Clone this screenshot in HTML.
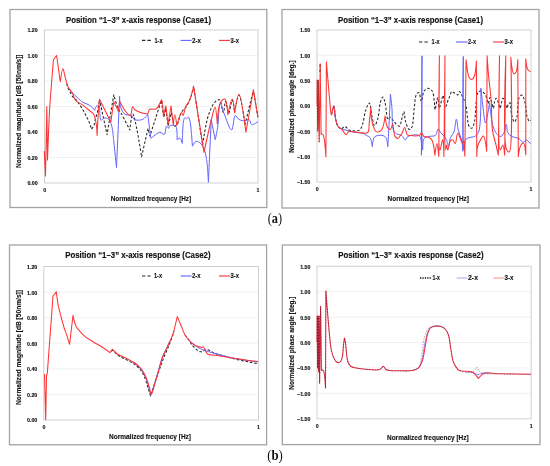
<!DOCTYPE html>
<html><head><meta charset="utf-8"><title>Position 1-3 x-axis response</title>
<style>
html,body{margin:0;padding:0;background:#fff;}
svg{display:block;}
.ti{font-family:'Liberation Sans', Arial, sans-serif;font-weight:bold;font-size:8.3px;fill:#111;stroke:#111;stroke-width:0.15px;}
.lg{font-family:'Liberation Sans', Arial, sans-serif;font-weight:bold;font-size:6.8px;fill:#111;stroke:#111;stroke-width:0.12px;}
.tk{font-family:'Liberation Sans', Arial, sans-serif;font-weight:bold;font-size:5.3px;fill:#111;stroke:#111;stroke-width:0.12px;}
.ax{font-family:'Liberation Sans', Arial, sans-serif;font-weight:bold;font-size:7px;fill:#111;stroke:#111;stroke-width:0.12px;}
.lab{font-family:'Liberation Serif', 'Times New Roman', serif;font-size:14.5px;fill:#111;}
</style></head>
<body>
<svg width="550" height="466" viewBox="0 0 550 466">
<rect width="550" height="466" fill="#fff"/>
<rect x="10" y="9.5" width="256.8" height="198.0" fill="#fff" stroke="#a3a3a3" stroke-width="1.3"/>
<text x="37.7" y="185.4" text-anchor="end" class="tk">0.00</text>
<line x1="44.5" x2="258" y1="157.5" y2="157.5" stroke="#eeeeee" stroke-width="0.8"/>
<text x="37.7" y="159.9" text-anchor="end" class="tk">0.20</text>
<line x1="44.5" x2="258" y1="132.0" y2="132.0" stroke="#eeeeee" stroke-width="0.8"/>
<text x="37.7" y="134.4" text-anchor="end" class="tk">0.40</text>
<line x1="44.5" x2="258" y1="106.5" y2="106.5" stroke="#eeeeee" stroke-width="0.8"/>
<text x="37.7" y="108.9" text-anchor="end" class="tk">0.60</text>
<line x1="44.5" x2="258" y1="81.0" y2="81.0" stroke="#eeeeee" stroke-width="0.8"/>
<text x="37.7" y="83.4" text-anchor="end" class="tk">0.80</text>
<line x1="44.5" x2="258" y1="55.5" y2="55.5" stroke="#eeeeee" stroke-width="0.8"/>
<text x="37.7" y="57.9" text-anchor="end" class="tk">1.00</text>
<text x="37.7" y="32.4" text-anchor="end" class="tk">1.20</text>
<rect x="44.5" y="30" width="213.5" height="153.0" fill="none" stroke="#d0d0d0" stroke-width="1"/>
<text x="44.7" y="192.4" text-anchor="middle" class="tk">0</text>
<text x="258.0" y="192.4" text-anchor="middle" class="tk">1</text>
<path d="M66.90,83.60 C66.90,83.60 67.23,86.07 67.70,87.40 C68.27,89.03 69.40,90.97 70.30,92.60 C71.14,94.12 71.81,95.58 72.90,96.90 C74.05,98.30 76.05,99.45 77.10,100.70 C77.91,101.67 78.21,102.51 78.90,103.60 C79.81,105.02 81.07,106.80 82.10,108.50 C83.17,110.26 84.22,112.16 85.20,114.00 C86.15,115.80 87.06,117.59 87.90,119.40 C88.73,121.19 89.58,123.06 90.20,124.80 C90.75,126.35 91.50,129.30 91.50,129.30 C91.50,129.30 93.17,127.17 93.80,125.70 C94.63,123.77 94.98,120.82 95.60,118.50 C96.18,116.30 96.84,114.62 97.40,112.10 C98.18,108.58 99.50,99.30 99.50,99.30 C99.50,99.30 107.00,134.70 107.00,134.70 C107.00,134.70 113.80,94.80 113.80,94.80 C113.80,94.80 116.71,105.64 118.30,109.00 C119.27,111.04 120.11,111.56 121.30,113.60 C123.49,117.35 129.80,130.00 129.80,130.00 C129.80,130.00 131.50,114.01 132.80,114.00 C134.93,113.98 141.60,156.80 141.60,156.80 C141.60,156.80 148.00,128.50 148.00,128.50 C148.00,128.50 150.00,136.00 150.00,136.00 C150.00,136.00 153.63,124.37 155.50,118.50 C157.40,112.54 161.30,100.50 161.30,100.50 C161.30,100.50 163.70,117.50 163.70,117.50 C163.70,117.50 165.90,108.40 165.90,108.40 C165.90,108.40 168.10,126.00 168.10,126.00 C168.10,126.00 171.40,112.70 171.40,112.70 C171.40,112.70 174.10,126.00 174.10,126.00 C174.10,126.00 175.97,125.84 176.80,125.00 C178.57,123.21 179.31,116.02 181.20,112.70 C182.72,110.03 185.03,108.71 186.60,106.20 C188.36,103.37 189.83,99.74 191.00,96.40 C192.15,93.11 193.60,86.30 193.60,86.30 C193.60,86.30 202.60,145.00 202.60,145.00 C202.60,145.00 205.68,123.40 208.30,115.60 C210.17,110.05 212.53,104.46 215.00,102.00 C216.42,100.58 218.28,99.26 219.50,99.80 C221.50,100.68 222.26,112.65 223.30,112.60 C224.26,112.56 224.74,101.32 225.60,101.30 C226.50,101.28 227.52,113.29 228.60,113.30 C229.74,113.32 231.29,99.95 232.30,100.00 C233.27,100.04 234.60,112.60 234.60,112.60 C234.60,112.60 237.50,94.97 239.00,95.00 C240.94,95.04 245.00,124.60 245.00,124.60 C245.00,124.60 249.45,106.18 251.00,99.80 C251.98,95.79 253.40,90.00 253.40,90.00 C253.40,90.00 257.90,117.10 257.90,117.10" fill="none" stroke="#262626" stroke-width="1.05" stroke-dasharray="2.6 1.8" stroke-linejoin="round"/>
<path d="M68.60,87.90 C68.60,87.90 70.16,90.16 71.10,91.30 C72.14,92.56 73.34,93.85 74.60,95.10 C75.93,96.42 77.53,97.77 78.90,99.00 C80.15,100.12 81.15,101.37 82.50,102.20 C83.85,103.04 85.53,103.27 87.00,104.00 C88.53,104.76 90.20,105.62 91.50,106.70 C92.75,107.73 94.70,110.30 94.70,110.30 C94.70,110.30 95.40,107.45 96.00,106.70 C96.39,106.20 96.85,105.96 97.40,105.80 C98.05,105.61 99.70,105.80 99.70,105.80 C99.70,105.80 99.55,119.67 101.00,120.30 C101.74,120.62 102.82,118.24 104.00,118.00 C105.34,117.73 107.48,118.21 108.70,119.20 C110.10,120.35 110.78,122.72 111.50,125.00 C112.43,127.95 113.20,135.60 113.20,135.60 C113.20,135.60 116.50,167.60 116.50,167.60 C116.50,167.60 119.60,96.40 119.60,96.40 C119.60,96.40 119.61,103.70 120.60,106.80 C121.51,109.64 123.02,113.10 125.00,114.40 C126.64,115.48 129.43,114.20 131.00,115.10 C132.49,115.96 132.69,118.69 134.30,119.50 C136.27,120.48 140.22,120.43 142.50,119.50 C144.67,118.61 147.80,114.30 147.80,114.30 C147.80,114.30 150.80,138.30 150.80,138.30 C150.80,138.30 152.60,136.82 153.80,136.00 C155.43,134.87 157.92,132.39 159.80,132.30 C161.39,132.22 163.21,135.00 164.30,134.50 C165.74,133.84 165.44,126.39 166.50,126.10 C167.15,125.92 168.30,128.53 168.80,128.40 C169.24,128.29 168.85,126.49 169.50,126.00 C170.52,125.24 174.26,124.79 175.60,126.00 C177.62,127.82 177.00,139.70 177.00,139.70 C177.00,139.70 179.18,137.90 180.00,138.20 C181.07,138.58 182.30,143.40 182.30,143.40 C182.30,143.40 182.54,119.27 184.60,117.90 C185.22,117.49 186.17,118.75 186.80,118.60 C187.40,118.45 187.85,117.03 188.30,117.10 C188.87,117.19 189.35,118.54 189.80,120.10 C191.06,124.45 192.40,146.20 192.40,146.20 C192.40,146.20 194.58,141.76 195.90,141.30 C196.88,140.95 198.07,141.53 199.10,142.20 C200.51,143.11 201.99,144.92 203.10,147.00 C204.62,149.84 205.56,153.71 206.40,158.20 C207.61,164.66 208.40,182.30 208.40,182.30 C208.40,182.30 211.20,119.60 211.20,119.60 C211.20,119.60 215.20,139.70 215.20,139.70 C215.20,139.70 216.87,132.41 217.60,127.70 C218.63,121.07 218.80,103.79 220.30,103.60 C221.28,103.48 222.48,109.66 224.00,113.30 C226.02,118.12 229.68,130.07 231.60,129.90 C233.33,129.75 233.55,116.06 235.30,115.60 C236.35,115.32 237.47,118.52 239.00,119.40 C240.65,120.35 243.23,121.01 245.00,120.90 C246.46,120.81 247.81,119.01 248.90,119.40 C250.20,119.86 250.47,124.17 251.90,124.60 C253.42,125.06 257.90,121.60 257.90,121.60" fill="none" stroke="#6262ff" stroke-width="1.0" stroke-linejoin="round"/>
<path d="M44.30,151.00 C44.30,151.00 45.50,176.00 45.50,176.00 C45.50,176.00 46.80,106.60 46.80,106.60 C46.80,106.60 47.50,160.00 47.50,160.00 C47.50,160.00 48.81,123.80 49.60,110.00 C50.16,100.23 50.77,93.36 51.40,85.00 C52.04,76.59 53.40,59.70 53.40,59.70 C53.40,59.70 56.60,55.50 56.60,55.50 C56.60,55.50 60.30,81.80 60.30,81.80 C60.30,81.80 62.04,68.84 62.90,68.80 C63.50,68.77 64.09,72.76 64.70,75.00 C65.42,77.63 66.14,81.24 66.90,83.60 C67.45,85.30 67.88,86.59 68.60,87.90 C69.29,89.15 70.34,90.24 71.10,91.30 C71.76,92.22 72.37,92.84 72.90,93.90 C73.59,95.28 73.79,97.65 74.60,99.00 C75.27,100.10 76.04,100.75 77.10,101.60 C78.50,102.73 80.82,103.72 82.50,104.90 C84.11,106.03 85.50,107.30 87.00,108.50 C88.50,109.70 90.27,111.00 91.50,112.10 C92.42,112.92 93.21,113.44 93.80,114.40 C94.47,115.51 94.70,116.93 95.10,118.50 C95.62,120.55 96.17,123.10 96.50,125.70 C96.88,128.73 97.10,135.60 97.10,135.60 C97.10,135.60 97.84,119.59 98.30,113.00 C98.66,107.86 99.50,99.30 99.50,99.30 C99.50,99.30 110.80,121.90 110.80,121.90 C110.80,121.90 113.80,101.60 113.80,101.60 C113.80,101.60 118.30,111.40 118.30,111.40 C118.30,111.40 119.80,101.60 119.80,101.60 C119.80,101.60 123.08,108.10 125.00,110.60 C126.63,112.73 129.04,116.25 130.30,115.90 C131.71,115.51 131.59,107.00 132.60,106.80 C133.24,106.68 133.54,108.91 134.80,109.80 C137.18,111.48 145.31,114.62 147.60,113.60 C148.95,113.00 148.40,110.21 149.60,109.40 C151.00,108.45 154.25,110.03 156.00,109.00 C158.00,107.83 159.50,103.69 160.50,102.00 C161.05,101.07 161.35,99.73 161.70,99.80 C162.61,99.98 163.50,116.40 163.50,116.40 C163.50,116.40 165.80,105.80 165.80,105.80 C165.80,105.80 168.00,124.60 168.00,124.60 C168.00,124.60 171.00,105.80 171.00,105.80 C171.00,105.80 173.30,124.60 173.30,124.60 C173.30,124.60 174.23,114.81 174.80,114.80 C175.39,114.79 176.80,125.40 176.80,125.40 C176.80,125.40 180.44,112.65 181.60,112.60 C182.17,112.58 182.50,115.64 183.00,115.60 C183.89,115.54 184.78,108.23 186.00,105.80 C186.83,104.15 188.03,103.36 188.80,102.00 C189.57,100.63 189.99,99.43 190.60,97.60 C191.56,94.73 193.60,86.30 193.60,86.30 C193.60,86.30 204.00,152.30 204.00,152.30 C204.00,152.30 209.16,128.27 211.30,120.00 C212.65,114.77 214.03,107.23 215.00,107.30 C216.10,107.38 217.30,123.90 217.30,123.90 C217.30,123.90 218.09,106.80 220.30,102.80 C221.46,100.70 223.64,98.59 224.80,99.00 C226.72,99.68 227.80,114.80 227.80,114.80 C227.80,114.80 231.15,98.94 232.30,99.00 C233.36,99.06 234.60,112.60 234.60,112.60 C234.60,112.60 237.48,94.46 239.00,94.50 C241.18,94.56 245.90,132.10 245.90,132.10 C245.90,132.10 253.40,90.00 253.40,90.00 C253.40,90.00 257.90,117.10 257.90,117.10" fill="none" stroke="#ff3333" stroke-width="1.05" stroke-linejoin="round"/>
<text x="66" y="22.8" class="ti" textLength="145.0" lengthAdjust="spacingAndGlyphs">Position “1–3” x-axis response (Case1)</text>
<line x1="142" x2="151" y1="40.4" y2="40.4" stroke="#262626" stroke-width="1.1" stroke-dasharray="3.4 2"/>
<text x="154.5" y="42.6" class="lg" textLength="8.0" lengthAdjust="spacingAndGlyphs">1-x</text>
<line x1="180.6" x2="191.6" y1="40.4" y2="40.4" stroke="#6262ff" stroke-width="1.1"/>
<text x="192" y="42.6" class="lg" textLength="9.0" lengthAdjust="spacingAndGlyphs">2-x</text>
<line x1="219" x2="230" y1="40.4" y2="40.4" stroke="#ff3333" stroke-width="1.1"/>
<text x="230.5" y="42.6" class="lg" textLength="8.5" lengthAdjust="spacingAndGlyphs">3-x</text>
<text x="110.7" y="201.0" class="ax" textLength="80.5" lengthAdjust="spacingAndGlyphs">Normalized frequency [Hz]</text>
<text transform="translate(21,168) rotate(-90)" x="0" y="0" class="ax" textLength="113.5" lengthAdjust="spacingAndGlyphs">Normalized magnitude [dB [50nm/s]]</text>
<rect x="282" y="9.5" width="257.0" height="198.5" fill="#fff" stroke="#a3a3a3" stroke-width="1.3"/>
<text x="310.3" y="184.4" text-anchor="end" class="tk">−1.50</text>
<line x1="317" x2="531" y1="156.7" y2="156.7" stroke="#eeeeee" stroke-width="0.8"/>
<text x="310.3" y="159.1" text-anchor="end" class="tk">−1.00</text>
<line x1="317" x2="531" y1="131.3" y2="131.3" stroke="#eeeeee" stroke-width="0.8"/>
<text x="310.3" y="133.7" text-anchor="end" class="tk">−0.50</text>
<line x1="317" x2="531" y1="106.0" y2="106.0" stroke="#eeeeee" stroke-width="0.8"/>
<text x="310.3" y="108.4" text-anchor="end" class="tk">0.00</text>
<line x1="317" x2="531" y1="80.7" y2="80.7" stroke="#eeeeee" stroke-width="0.8"/>
<text x="310.3" y="83.1" text-anchor="end" class="tk">0.50</text>
<line x1="317" x2="531" y1="55.3" y2="55.3" stroke="#eeeeee" stroke-width="0.8"/>
<text x="310.3" y="57.7" text-anchor="end" class="tk">1.00</text>
<text x="310.3" y="32.4" text-anchor="end" class="tk">1.50</text>
<rect x="317" y="30" width="214.0" height="152.0" fill="none" stroke="#d0d0d0" stroke-width="1"/>
<text x="317.2" y="191.4" text-anchor="middle" class="tk">0</text>
<text x="531.0" y="191.4" text-anchor="middle" class="tk">1</text>
<path d="M319.95,72.00 C319.95,72.00 320.20,63.80 320.20,63.80 C320.20,63.80 320.45,72.00 320.45,72.00" fill="none" stroke="#262626" stroke-width="1.05" stroke-dasharray="2.6 1.8" stroke-linejoin="round"/>
<path d="M331.40,115.00 C331.40,115.00 333.13,105.96 333.80,106.00 C334.59,106.05 334.77,115.33 335.60,119.00 C336.23,121.78 336.71,124.47 337.90,126.20 C338.82,127.53 340.43,129.03 341.40,129.00 C342.11,128.98 342.54,127.84 343.20,127.40 C343.85,126.97 344.55,126.27 345.30,126.40 C346.42,126.59 347.25,129.38 349.00,130.10 C351.47,131.12 357.23,131.48 359.50,130.10 C361.32,128.99 361.70,126.57 362.60,124.10 C363.88,120.56 364.28,114.39 365.60,110.60 C366.64,107.63 368.28,102.87 369.30,103.00 C370.68,103.18 371.26,113.96 372.30,118.10 C373.04,121.06 373.67,125.52 374.60,125.60 C375.46,125.67 376.75,122.22 377.60,119.60 C379.01,115.27 379.30,105.45 380.60,101.50 C381.28,99.43 382.19,96.96 382.90,97.00 C383.70,97.05 384.41,100.46 385.10,103.00 C386.22,107.12 386.58,119.12 388.10,119.60 C388.77,119.81 389.57,117.26 390.40,117.30 C391.51,117.35 392.67,120.38 394.10,121.80 C395.66,123.36 398.28,126.56 399.50,126.20 C400.64,125.87 400.74,122.55 401.40,120.40 C402.22,117.73 403.35,111.36 404.00,111.40 C404.64,111.44 404.47,117.45 405.30,120.40 C406.17,123.48 407.79,129.15 409.20,129.50 C410.00,129.70 411.01,128.73 411.70,127.50 C413.44,124.41 413.47,113.48 414.30,107.60 C414.96,102.92 414.92,97.48 416.20,95.00 C416.88,93.68 418.06,92.30 418.80,92.50 C419.99,92.82 420.56,101.51 421.40,101.50 C422.30,101.48 422.53,93.47 424.00,91.20 C424.99,89.67 426.46,88.25 427.80,88.20 C429.22,88.14 431.23,89.59 432.30,91.20 C433.79,93.45 433.83,98.25 434.30,101.50 C434.72,104.38 434.64,109.67 435.10,109.70 C435.67,109.73 436.98,97.48 437.70,97.50 C438.36,97.52 438.47,107.74 439.30,107.80 C440.23,107.87 442.23,95.43 443.20,95.50 C444.15,95.57 444.11,107.69 445.10,107.80 C445.96,107.89 447.52,101.35 448.50,99.00 C449.17,97.40 449.78,96.28 450.30,95.00 C450.76,93.86 450.78,92.01 451.50,91.70 C452.20,91.40 453.50,92.49 454.50,93.00 C455.57,93.55 456.86,95.13 457.70,94.90 C458.57,94.66 458.88,91.40 459.60,91.40 C460.55,91.40 461.96,95.76 462.90,97.60 C463.64,99.04 464.27,100.13 464.80,101.50 C465.35,102.92 465.64,103.93 466.10,106.00 C467.07,110.40 467.31,124.16 469.30,126.90 C470.04,127.91 471.15,128.48 471.90,128.20 C473.06,127.76 473.88,124.28 474.50,121.70 C475.35,118.20 475.23,113.35 475.70,108.90 C476.22,104.02 476.06,96.50 477.50,93.60 C478.22,92.14 479.22,91.01 480.30,90.90 C481.52,90.78 483.42,92.40 484.50,93.60 C485.60,94.82 486.16,96.58 486.80,98.20 C487.47,99.90 487.90,103.61 488.40,103.60 C488.93,103.59 489.31,97.55 489.90,97.50 C490.38,97.46 490.99,99.82 491.50,101.30 C492.18,103.26 492.89,108.32 493.40,108.30 C493.87,108.28 493.98,103.90 494.50,102.10 C494.93,100.62 495.49,98.22 496.10,98.20 C496.78,98.18 497.76,101.25 498.40,102.90 C499.07,104.61 499.48,108.30 500.00,108.30 C500.52,108.30 500.98,104.63 501.50,102.90 C501.99,101.27 502.39,98.25 503.00,98.20 C503.57,98.15 504.40,100.62 505.00,102.10 C505.73,103.90 506.28,108.29 506.90,108.30 C507.44,108.31 507.76,104.43 508.50,103.60 C508.93,103.12 509.59,102.67 510.00,102.90 C511.10,103.51 510.62,111.10 511.50,114.50 C512.23,117.32 513.52,121.95 514.50,122.00 C515.28,122.04 516.17,119.61 516.80,117.50 C518.05,113.35 517.30,101.53 519.00,98.00 C519.79,96.36 521.12,94.82 522.00,95.00 C523.22,95.25 524.19,99.52 525.00,102.50 C526.12,106.59 526.15,114.22 527.30,117.50 C527.92,119.26 528.86,121.24 529.50,121.30 C529.90,121.34 530.60,120.00 530.60,120.00" fill="none" stroke="#262626" stroke-width="1.05" stroke-dasharray="2.6 1.8" stroke-linejoin="round"/>
<path d="M331.40,115.00 C331.40,115.00 333.13,105.96 333.80,106.00 C334.59,106.05 334.77,115.33 335.60,119.00 C336.23,121.78 336.68,124.56 337.90,126.20 C338.81,127.43 340.06,127.94 341.40,128.60 C342.94,129.35 344.73,129.73 346.70,130.30 C349.15,131.00 352.28,131.93 355.00,132.40 C357.57,132.84 360.58,132.42 362.60,133.10 C364.13,133.61 365.06,134.65 366.30,135.40 C367.53,136.15 369.06,136.33 370.00,137.60 C371.40,139.47 372.30,146.70 372.30,146.70 C372.30,146.70 372.71,138.73 374.60,136.90 C376.25,135.31 380.07,135.06 382.10,135.40 C383.64,135.65 384.97,136.32 385.90,137.60 C387.25,139.47 387.80,146.70 387.80,146.70 C387.80,146.70 388.53,134.49 388.90,127.10 C389.39,117.50 390.40,94.00 390.40,94.00 C390.40,94.00 391.45,102.49 391.90,107.60 C392.48,114.16 391.77,125.86 393.40,130.10 C394.16,132.07 395.10,133.03 396.40,133.90 C397.75,134.80 399.95,134.38 401.40,135.30 C402.95,136.28 404.15,139.83 405.30,139.80 C406.27,139.78 406.49,137.23 407.90,136.50 C410.25,135.28 417.11,133.84 419.50,135.90 C422.59,138.56 421.40,155.20 421.40,155.20 C421.40,155.20 422.00,55.80 422.00,55.80 C422.00,55.80 421.40,149.93 422.50,150.00 C422.89,150.02 422.41,140.63 424.00,138.50 C425.04,137.11 426.79,137.01 428.50,136.50 C430.56,135.88 434.00,136.61 435.60,135.30 C437.17,134.01 437.14,128.91 438.10,128.80 C438.88,128.71 439.72,131.51 440.70,132.70 C441.66,133.87 442.94,134.73 443.90,135.90 C444.88,137.09 445.79,138.28 446.50,139.80 C447.35,141.62 447.79,146.22 448.40,146.20 C449.10,146.18 449.39,140.27 450.40,137.80 C451.30,135.61 452.97,134.41 453.90,132.00 C455.19,128.65 455.63,119.19 456.40,119.20 C457.13,119.21 457.47,127.13 458.40,130.70 C459.25,133.95 460.85,136.54 461.60,139.80 C462.42,143.37 462.90,151.30 462.90,151.30 C462.90,151.30 463.30,56.40 463.30,56.40 C463.30,56.40 462.10,149.83 463.80,150.00 C464.38,150.06 464.01,141.45 466.10,139.10 C468.10,136.86 473.51,137.62 475.70,135.90 C477.41,134.56 478.14,133.44 479.00,130.70 C481.27,123.47 480.90,88.00 480.90,88.00 C480.90,88.00 482.62,104.96 483.50,111.40 C484.12,115.95 484.66,122.96 485.40,123.00 C486.02,123.03 486.87,117.95 487.50,115.00 C488.27,111.42 489.50,103.00 489.50,103.00 C489.50,103.00 490.46,111.26 491.00,115.00 C491.47,118.30 491.63,121.28 492.50,124.30 C493.38,127.38 494.60,131.21 496.30,133.30 C497.59,134.89 499.59,136.69 500.90,136.50 C502.13,136.32 503.16,134.25 504.00,132.60 C505.10,130.43 505.66,124.27 506.30,124.30 C506.93,124.33 506.70,130.51 507.80,132.60 C508.66,134.25 509.90,135.34 511.50,136.30 C513.46,137.48 517.03,137.43 519.00,138.60 C520.62,139.56 521.48,142.14 522.80,142.30 C523.99,142.44 525.28,139.98 526.50,140.10 C527.88,140.24 530.60,143.80 530.60,143.80" fill="none" stroke="#6262ff" stroke-width="1.0" stroke-linejoin="round"/>
<path d="M317.00,106.00 C317.00,106.00 317.20,80.00 317.20,80.00 C317.20,80.00 317.70,131.00 317.70,131.00 C317.70,131.00 318.30,80.00 318.30,80.00 C318.30,80.00 319.20,142.00 319.20,142.00 C319.20,142.00 320.20,63.80 320.20,63.80 C320.20,63.80 321.10,134.20 321.10,134.20 C321.10,134.20 322.29,133.90 322.80,134.40 C324.64,136.20 325.90,156.80 325.90,156.80 C325.90,156.80 326.40,61.80 326.40,61.80 C326.40,61.80 327.37,73.55 327.90,79.70 C328.47,86.25 329.07,93.75 329.70,100.00 C330.24,105.38 330.58,114.94 331.40,115.00 C332.04,115.05 333.13,105.96 333.80,106.00 C334.59,106.05 334.77,115.33 335.60,119.00 C336.23,121.78 336.72,124.45 337.90,126.20 C338.82,127.56 340.48,128.22 341.40,129.10 C342.07,129.74 342.39,130.18 343.00,130.90 C343.85,131.91 344.97,134.55 346.00,134.60 C346.97,134.65 347.45,132.14 349.00,131.60 C351.77,130.63 359.14,133.14 362.60,133.10 C364.74,133.07 366.64,133.54 367.80,132.40 C369.39,130.84 368.84,126.22 369.30,122.60 C369.86,118.14 370.80,107.60 370.80,107.60 C370.80,107.60 371.21,118.31 372.30,122.60 C373.18,126.06 374.21,130.69 376.10,131.60 C377.52,132.28 380.02,131.51 381.40,130.10 C383.66,127.78 385.10,115.80 385.10,115.80 C385.10,115.80 386.01,124.88 387.40,127.10 C388.20,128.37 389.58,129.62 390.40,129.40 C391.41,129.13 391.95,124.03 392.60,124.10 C393.55,124.20 393.47,133.78 394.90,136.10 C395.69,137.39 397.02,138.49 397.90,138.40 C398.70,138.32 399.36,136.68 400.00,136.00 C400.50,135.46 400.90,135.31 401.40,134.60 C402.39,133.19 403.73,127.45 404.70,127.50 C405.65,127.55 405.89,133.35 407.20,134.60 C408.08,135.45 409.11,135.42 410.50,135.60 C412.74,135.89 417.71,136.24 419.50,135.30 C420.57,134.74 420.73,132.69 421.40,132.70 C422.21,132.71 422.77,135.74 424.00,136.50 C425.30,137.30 427.71,136.43 429.10,137.20 C430.47,137.95 431.44,139.18 432.30,141.00 C433.77,144.11 434.90,155.20 434.90,155.20 C434.90,155.20 436.17,143.60 436.80,143.60 C437.47,143.60 438.80,156.50 438.80,156.50 C438.80,156.50 439.40,55.80 439.40,55.80 C439.40,55.80 438.01,149.76 440.00,150.00 C440.67,150.08 441.96,139.75 442.60,139.80 C443.40,139.87 443.90,156.50 443.90,156.50 C443.90,156.50 445.00,55.80 445.00,55.80 C445.00,55.80 444.53,149.91 445.60,150.00 C445.85,150.02 446.14,144.91 446.50,144.90 C446.87,144.89 447.27,149.99 447.80,150.00 C448.50,150.01 449.17,142.53 450.40,141.00 C451.04,140.21 451.91,139.63 452.60,139.80 C453.54,140.03 454.46,143.74 455.20,143.60 C456.32,143.39 456.67,133.42 457.70,133.30 C458.46,133.21 459.53,136.82 460.30,138.50 C461.01,140.04 461.57,142.94 462.20,143.00 C462.64,143.04 463.14,140.91 463.50,141.00 C464.40,141.22 464.80,155.90 464.80,155.90 C464.80,155.90 466.10,59.70 466.10,59.70 C466.10,59.70 467.50,74.98 469.30,77.70 C470.04,78.82 471.10,79.55 471.90,79.40 C472.86,79.21 473.82,77.46 474.50,75.70 C475.74,72.52 476.40,61.00 476.40,61.00 C476.40,61.00 476.80,156.50 476.80,156.50 C476.80,156.50 476.90,149.26 477.70,146.20 C478.39,143.55 479.76,140.95 480.90,139.10 C481.73,137.76 482.74,135.72 483.50,135.90 C484.98,136.26 486.70,151.30 486.70,151.30 C486.70,151.30 487.10,55.80 487.10,55.80 C487.10,55.80 487.98,68.64 488.60,75.70 C489.31,83.75 490.56,92.62 491.20,101.50 C491.88,110.92 491.38,122.97 492.50,130.70 C493.25,135.91 494.71,139.41 495.70,143.60 C496.64,147.56 498.30,155.20 498.30,155.20 C498.30,155.20 499.50,55.80 499.50,55.80 C499.50,55.80 497.87,149.30 500.00,150.00 C500.27,150.09 500.57,149.33 500.90,148.80 C501.46,147.89 502.26,144.83 502.80,144.90 C503.65,145.02 504.70,155.20 504.70,155.20 C504.70,155.20 505.80,55.80 505.80,55.80 C505.80,55.80 502.59,139.67 506.40,149.00 C507.21,150.97 508.48,152.32 509.30,152.00 C513.19,150.46 510.80,57.30 510.80,57.30 C510.80,57.30 512.20,73.13 513.80,73.80 C514.44,74.07 515.41,73.25 516.00,72.30 C517.30,70.21 517.80,59.50 517.80,59.50 C517.80,59.50 518.30,156.60 518.30,156.60 C518.30,156.60 519.24,148.34 520.50,146.00 C521.29,144.53 522.70,142.76 523.50,143.00 C524.85,143.42 525.80,155.00 525.80,155.00 C525.80,155.00 525.80,58.80 525.80,58.80 C525.80,58.80 526.63,68.09 528.00,70.00 C528.70,70.98 530.60,71.50 530.60,71.50" fill="none" stroke="#ff3333" stroke-width="1.05" stroke-linejoin="round"/>
<path d="M317.20,80.00 C317.20,80.00 317.70,131.00 317.70,131.00 C317.70,131.00 318.30,80.00 318.30,80.00 C318.30,80.00 319.20,142.00 319.20,142.00" fill="none" stroke="#262626" stroke-width="0.9" stroke-dasharray="1.4 1.4" stroke-linejoin="round" opacity="0.55"/>
<text x="338" y="22.8" class="ti" textLength="145.0" lengthAdjust="spacingAndGlyphs">Position “1–3” x-axis response (Case1)</text>
<line x1="419" x2="428.4" y1="42" y2="42" stroke="#262626" stroke-width="1.1" stroke-dasharray="3.4 2"/>
<text x="431.6" y="44.2" class="lg" textLength="8.0" lengthAdjust="spacingAndGlyphs">1-x</text>
<line x1="456" x2="467.6" y1="42" y2="42" stroke="#6262ff" stroke-width="1.1"/>
<text x="468" y="44.2" class="lg" textLength="8.0" lengthAdjust="spacingAndGlyphs">2-x</text>
<line x1="493" x2="504" y1="42" y2="42" stroke="#ff3333" stroke-width="1.1"/>
<text x="504.5" y="44.2" class="lg" textLength="8.5" lengthAdjust="spacingAndGlyphs">3-x</text>
<text x="387.6" y="201.0" class="ax" textLength="81.4" lengthAdjust="spacingAndGlyphs">Normalized frequency [Hz]</text>
<text transform="translate(294.0,152.8) rotate(-90)" x="0" y="0" class="ax" style="font-size:6.3px" textLength="92.4" lengthAdjust="spacingAndGlyphs">Normalized phase angle [deg.]</text>
<rect x="9.5" y="245" width="257.1" height="199.8" fill="#fff" stroke="#a3a3a3" stroke-width="1.3"/>
<text x="37.3" y="422.4" text-anchor="end" class="tk">0.00</text>
<line x1="43.8" x2="258.5" y1="394.4" y2="394.4" stroke="#eeeeee" stroke-width="0.8"/>
<text x="37.3" y="396.8" text-anchor="end" class="tk">0.20</text>
<line x1="43.8" x2="258.5" y1="368.8" y2="368.8" stroke="#eeeeee" stroke-width="0.8"/>
<text x="37.3" y="371.2" text-anchor="end" class="tk">0.40</text>
<line x1="43.8" x2="258.5" y1="343.2" y2="343.2" stroke="#eeeeee" stroke-width="0.8"/>
<text x="37.3" y="345.6" text-anchor="end" class="tk">0.60</text>
<line x1="43.8" x2="258.5" y1="317.7" y2="317.7" stroke="#eeeeee" stroke-width="0.8"/>
<text x="37.3" y="320.1" text-anchor="end" class="tk">0.80</text>
<line x1="43.8" x2="258.5" y1="292.1" y2="292.1" stroke="#eeeeee" stroke-width="0.8"/>
<text x="37.3" y="294.5" text-anchor="end" class="tk">1.00</text>
<text x="37.3" y="268.9" text-anchor="end" class="tk">1.20</text>
<rect x="43.8" y="266.5" width="214.7" height="153.5" fill="none" stroke="#d0d0d0" stroke-width="1"/>
<text x="44.0" y="429.2" text-anchor="middle" class="tk">0</text>
<text x="258.5" y="429.2" text-anchor="middle" class="tk">1</text>
<path d="M111.00,351.00 C111.00,351.00 112.27,350.30 113.00,350.50 C114.29,350.86 115.69,353.66 117.50,355.00 C119.59,356.55 122.50,357.67 125.00,359.00 C127.50,360.33 130.68,361.97 132.50,363.00 C133.57,363.60 134.06,363.77 135.00,364.50 C136.52,365.67 138.84,367.78 140.40,369.80 C142.03,371.92 143.32,374.34 144.50,377.00 C145.83,380.00 146.76,383.75 147.80,387.00 C148.79,390.07 150.60,396.00 150.60,396.00 C150.60,396.00 152.36,390.44 153.30,387.50 C154.32,384.32 155.32,381.04 156.50,377.60 C157.80,373.81 159.46,369.34 160.80,365.70 C161.94,362.60 162.80,360.10 164.00,357.10 C165.34,353.74 167.24,349.61 168.50,346.50 C169.48,344.08 170.22,342.08 171.00,340.00 C171.71,338.09 172.47,336.14 173.00,334.50 C173.42,333.21 174.00,331.00 174.00,331.00" fill="none" stroke="#262626" stroke-width="1.05" stroke-dasharray="2.6 1.8" stroke-linejoin="round"/>
<path d="M185.00,335.00 C185.00,335.00 188.87,339.74 190.00,341.50 C190.71,342.59 190.64,343.24 191.50,344.30 C193.16,346.33 197.62,351.26 200.50,351.80 C202.67,352.21 204.60,349.61 206.80,349.70 C209.30,349.81 211.45,351.93 214.70,353.10 C219.64,354.88 227.02,356.99 233.80,358.70 C241.36,360.60 258.00,363.80 258.00,363.80" fill="none" stroke="#262626" stroke-width="1.05" stroke-dasharray="2.6 1.8" stroke-linejoin="round"/>
<path d="M132.10,361.90 C132.10,361.90 133.63,362.59 134.60,363.30 C136.30,364.55 139.21,367.04 141.00,369.30 C142.77,371.54 144.07,374.08 145.30,376.80 C146.64,379.74 147.70,383.29 148.60,386.40 C149.43,389.27 149.86,394.68 150.60,394.80 C150.98,394.86 151.38,393.83 151.80,392.90 C152.75,390.82 153.94,385.78 155.00,382.20 C156.07,378.61 157.11,375.18 158.20,371.40 C159.40,367.25 160.37,362.44 161.90,358.30 C163.36,354.36 165.62,350.38 167.10,347.10 C168.25,344.56 170.10,340.30 170.10,340.30" fill="none" stroke="#6262ff" stroke-width="1.0" stroke-linejoin="round"/>
<path d="M190.00,341.30 C190.00,341.30 194.18,344.70 196.00,346.00 C197.44,347.03 198.26,347.75 200.00,348.60 C202.75,349.94 206.86,351.17 211.30,352.50 C217.49,354.35 226.13,356.61 233.80,358.20 C241.68,359.83 258.00,362.10 258.00,362.10" fill="none" stroke="#6262ff" stroke-width="1.0" stroke-linejoin="round"/>
<path d="M44.50,374.00 C44.50,374.00 45.70,419.50 45.70,419.50 C45.70,419.50 46.50,376.00 46.50,376.00 C46.50,376.00 47.40,372.40 47.40,372.40 C47.40,372.40 48.43,357.67 49.00,350.00 C49.60,341.89 50.26,333.64 50.90,325.00 C51.59,315.69 53.00,296.00 53.00,296.00 C53.00,296.00 56.30,291.70 56.30,291.70 C56.30,291.70 57.35,300.42 58.00,304.00 C58.51,306.82 59.11,309.09 59.70,311.50 C60.25,313.75 60.77,315.63 61.40,318.00 C62.17,320.87 63.10,324.67 64.00,327.50 C64.74,329.83 65.49,331.42 66.30,333.80 C67.33,336.85 69.60,344.30 69.60,344.30 C69.60,344.30 73.00,315.30 73.00,315.30 C73.00,315.30 73.88,319.92 74.50,322.00 C75.07,323.89 75.62,325.80 76.50,327.30 C77.27,328.61 78.33,329.48 79.30,330.60 C80.32,331.78 81.40,333.09 82.50,334.20 C83.54,335.25 84.39,336.11 85.70,337.10 C87.44,338.42 90.48,340.11 92.20,341.20 C93.33,341.92 93.92,342.35 95.00,343.00 C96.42,343.85 98.08,344.61 100.00,345.80 C102.79,347.53 110.00,352.60 110.00,352.60 C110.00,352.60 112.30,349.20 112.30,349.20 C112.30,349.20 115.50,352.61 117.50,354.00 C119.68,355.52 122.50,356.53 125.00,357.80 C127.50,359.07 130.68,360.63 132.50,361.60 C133.56,362.17 134.03,362.29 135.00,363.00 C136.70,364.25 139.61,366.74 141.40,369.00 C143.17,371.24 144.47,373.78 145.70,376.50 C147.04,379.44 148.10,382.99 149.00,386.10 C149.83,388.97 151.00,394.50 151.00,394.50 C151.00,394.50 151.78,393.53 152.20,392.60 C153.15,390.52 154.34,385.48 155.40,381.90 C156.47,378.31 157.51,374.88 158.60,371.10 C159.80,366.95 160.77,362.14 162.30,358.00 C163.76,354.06 166.02,350.08 167.50,346.80 C168.65,344.26 169.58,342.15 170.50,340.00 C171.33,338.07 172.00,336.90 172.80,334.50 C174.21,330.27 177.30,316.50 177.30,316.50 C177.30,316.50 179.75,322.50 181.00,325.50 C182.25,328.50 183.23,331.80 184.80,334.50 C186.27,337.03 188.06,339.38 190.00,341.30 C191.82,343.10 193.89,344.80 196.00,345.80 C197.91,346.71 200.70,347.32 202.00,347.30 C202.63,347.29 202.95,346.71 203.40,346.90 C204.19,347.23 204.82,349.65 205.60,350.90 C206.33,352.07 206.64,353.43 207.90,354.20 C209.79,355.35 213.44,354.88 216.90,355.40 C221.66,356.11 227.66,357.26 233.80,358.20 C241.14,359.32 258.00,361.60 258.00,361.60" fill="none" stroke="#ff3333" stroke-width="1.05" stroke-linejoin="round"/>
<text x="65.3" y="257.9" class="ti" textLength="145.2" lengthAdjust="spacingAndGlyphs">Position “1–3” x-axis response (Case2)</text>
<line x1="142" x2="150.6" y1="276" y2="276" stroke="#262626" stroke-width="1.1" stroke-dasharray="3.4 2"/>
<text x="154" y="278.2" class="lg" textLength="8.0" lengthAdjust="spacingAndGlyphs">1-x</text>
<line x1="180.6" x2="191.6" y1="276" y2="276" stroke="#6262ff" stroke-width="1.1"/>
<text x="192" y="278.2" class="lg" textLength="8.6" lengthAdjust="spacingAndGlyphs">2-x</text>
<line x1="219" x2="230" y1="276" y2="276" stroke="#ff3333" stroke-width="1.1"/>
<text x="230.5" y="278.2" class="lg" textLength="8.5" lengthAdjust="spacingAndGlyphs">3-x</text>
<text x="109" y="438.5" class="ax" textLength="82.0" lengthAdjust="spacingAndGlyphs">Normalized frequency [Hz]</text>
<text transform="translate(21,405) rotate(-90)" x="0" y="0" class="ax" textLength="115.0" lengthAdjust="spacingAndGlyphs">Normalized magnitude [dB [50nm/s]]</text>
<rect x="282.3" y="245" width="257.7" height="199.6" fill="#fff" stroke="#a3a3a3" stroke-width="1.3"/>
<text x="310.5" y="421.2" text-anchor="end" class="tk">−1.50</text>
<line x1="317" x2="531.2" y1="393.4" y2="393.4" stroke="#eeeeee" stroke-width="0.8"/>
<text x="310.5" y="395.8" text-anchor="end" class="tk">−1.00</text>
<line x1="317" x2="531.2" y1="367.9" y2="367.9" stroke="#eeeeee" stroke-width="0.8"/>
<text x="310.5" y="370.3" text-anchor="end" class="tk">−0.50</text>
<line x1="317" x2="531.2" y1="342.5" y2="342.5" stroke="#eeeeee" stroke-width="0.8"/>
<text x="310.5" y="344.9" text-anchor="end" class="tk">0.00</text>
<line x1="317" x2="531.2" y1="317.1" y2="317.1" stroke="#eeeeee" stroke-width="0.8"/>
<text x="310.5" y="319.5" text-anchor="end" class="tk">0.50</text>
<line x1="317" x2="531.2" y1="291.6" y2="291.6" stroke="#eeeeee" stroke-width="0.8"/>
<text x="310.5" y="294.0" text-anchor="end" class="tk">1.00</text>
<text x="310.5" y="268.6" text-anchor="end" class="tk">1.50</text>
<rect x="317" y="266.2" width="214.2" height="152.6" fill="none" stroke="#d0d0d0" stroke-width="1"/>
<text x="317.2" y="427.8" text-anchor="middle" class="tk">0</text>
<text x="531.2" y="427.8" text-anchor="middle" class="tk">1</text>
<path d="M412.50,370.40 C412.50,370.40 416.97,369.26 418.50,367.80 C420.14,366.24 420.86,363.96 421.80,361.10 C423.27,356.61 423.79,348.39 425.00,343.00 C426.00,338.56 426.94,333.72 428.30,331.00 C429.11,329.38 429.87,328.32 431.00,327.50 C432.11,326.70 433.51,326.30 435.00,326.10 C436.78,325.86 441.00,326.50 441.00,326.50" fill="none" stroke="#7a7aff" stroke-width="0.9" stroke-linejoin="round"/>
<path d="M466.00,371.80 C466.00,371.80 470.46,371.82 472.50,372.30 C474.45,372.75 476.20,374.42 478.00,374.50 C479.69,374.58 481.17,373.20 483.00,373.00 C485.12,372.77 490.00,373.50 490.00,373.50" fill="none" stroke="#7a7aff" stroke-width="0.9" stroke-linejoin="round"/>
<path d="M317.00,342.00 C317.00,342.00 317.20,316.00 317.20,316.00 C317.20,316.00 317.60,368.00 317.60,368.00 C317.60,368.00 318.10,316.00 318.10,316.00 C318.10,316.00 318.60,372.00 318.60,372.00 C318.60,372.00 319.10,316.00 319.10,316.00 C319.10,316.00 319.60,383.30 319.60,383.30 C319.60,383.30 320.60,306.20 320.60,306.20 C320.60,306.20 321.40,370.30 321.40,370.30 C321.40,370.30 322.69,369.92 323.20,370.40 C324.81,371.90 325.50,388.00 325.50,388.00 C325.50,388.00 325.90,290.90 325.90,290.90 C325.90,290.90 326.47,298.75 326.80,303.00 C327.17,307.73 327.59,313.09 328.00,318.00 C328.39,322.75 328.79,327.62 329.20,332.00 C329.56,335.89 329.88,339.63 330.30,343.00 C330.66,345.88 330.88,348.45 331.50,351.00 C332.10,353.44 333.02,356.10 333.90,358.00 C334.55,359.41 335.12,360.69 336.00,361.50 C336.74,362.19 337.77,362.87 338.60,362.80 C339.44,362.72 340.38,361.89 341.00,361.00 C341.82,359.83 342.12,357.98 342.50,356.00 C343.03,353.26 343.06,349.14 343.40,346.00 C343.70,343.18 344.40,338.00 344.40,338.00 C344.40,338.00 345.17,340.93 345.50,343.00 C346.03,346.31 346.28,352.50 346.80,356.00 C347.16,358.39 347.32,360.25 348.00,362.00 C348.59,363.53 349.27,365.04 350.40,366.00 C351.55,366.98 353.04,367.31 354.90,367.80 C357.67,368.54 361.78,369.01 365.60,369.30 C369.94,369.63 376.49,370.56 379.60,369.50 C381.45,368.87 382.39,366.28 383.50,366.40 C384.49,366.51 384.95,368.80 386.00,369.50 C387.05,370.20 388.21,370.36 389.80,370.60 C392.36,370.99 396.43,370.82 400.00,370.80 C403.96,370.78 409.15,371.15 412.50,370.40 C414.93,369.86 416.90,369.24 418.50,367.80 C420.24,366.24 421.27,363.88 422.30,361.10 C423.76,357.17 424.37,350.75 425.30,346.00 C426.13,341.77 426.52,337.30 427.60,334.00 C428.42,331.50 429.16,328.98 430.60,327.70 C431.77,326.65 433.40,326.42 435.00,326.20 C436.82,325.94 439.20,325.92 441.00,326.50 C442.72,327.06 444.37,328.12 445.60,329.50 C446.96,331.03 447.80,333.03 448.60,335.50 C449.74,339.03 450.03,344.63 450.80,349.00 C451.53,353.15 451.99,357.83 453.10,361.10 C453.92,363.51 454.93,365.45 456.10,367.10 C457.08,368.48 457.73,369.66 459.40,370.50 C462.18,371.91 469.22,370.60 472.50,372.30 C475.13,373.66 478.30,378.50 478.30,378.50 C478.30,378.50 481.48,374.17 484.10,373.20 C487.66,371.89 492.81,373.56 498.60,373.70 C507.22,373.92 530.80,374.20 530.80,374.20" fill="none" stroke="#f5334a" stroke-width="1.05" stroke-linejoin="round"/>
<path d="M317.00,342.00 C317.00,342.00 317.20,316.00 317.20,316.00 C317.20,316.00 317.60,368.00 317.60,368.00 C317.60,368.00 318.10,316.00 318.10,316.00 C318.10,316.00 318.60,372.00 318.60,372.00 C318.60,372.00 319.10,316.00 319.10,316.00 C319.10,316.00 319.60,383.30 319.60,383.30 C319.60,383.30 320.60,306.20 320.60,306.20 C320.60,306.20 321.40,370.30 321.40,370.30 C321.40,370.30 322.69,369.92 323.20,370.40 C324.81,371.90 325.50,388.00 325.50,388.00 C325.50,388.00 325.90,290.90 325.90,290.90 C325.90,290.90 326.47,298.75 326.80,303.00 C327.17,307.73 327.59,313.09 328.00,318.00 C328.39,322.75 328.79,327.62 329.20,332.00 C329.56,335.89 329.88,339.63 330.30,343.00 C330.66,345.88 330.88,348.45 331.50,351.00 C332.10,353.44 333.02,356.10 333.90,358.00 C334.55,359.41 335.12,360.69 336.00,361.50 C336.74,362.19 337.77,362.87 338.60,362.80 C339.44,362.72 340.38,361.89 341.00,361.00 C341.82,359.83 342.12,357.98 342.50,356.00 C343.03,353.26 343.06,349.14 343.40,346.00 C343.70,343.18 344.40,338.00 344.40,338.00 C344.40,338.00 345.17,340.93 345.50,343.00 C346.03,346.31 346.28,352.50 346.80,356.00 C347.16,358.39 347.32,360.25 348.00,362.00 C348.59,363.53 349.27,365.04 350.40,366.00 C351.55,366.98 353.04,367.31 354.90,367.80 C357.67,368.54 361.78,369.01 365.60,369.30 C369.94,369.63 376.49,370.56 379.60,369.50 C381.45,368.87 382.39,366.28 383.50,366.40 C384.49,366.51 384.95,368.80 386.00,369.50 C387.05,370.20 388.21,370.36 389.80,370.60 C392.36,370.99 396.43,370.82 400.00,370.80 C403.96,370.78 409.15,371.15 412.50,370.40 C414.93,369.86 417.12,369.29 418.50,367.80 C419.94,366.25 420.07,364.07 420.80,361.10 C422.16,355.59 422.60,342.99 424.50,337.00 C425.72,333.15 426.93,329.80 429.00,328.00 C430.64,326.58 432.97,326.24 435.00,326.00 C436.98,325.76 439.20,325.88 441.00,326.50 C442.72,327.09 444.37,328.12 445.60,329.50 C446.96,331.03 447.80,333.03 448.60,335.50 C449.74,339.03 450.03,344.63 450.80,349.00 C451.53,353.15 451.99,357.83 453.10,361.10 C453.92,363.51 454.93,365.45 456.10,367.10 C457.08,368.48 457.73,369.66 459.40,370.50 C462.18,371.91 469.52,373.49 472.50,372.30 C474.66,371.44 476.80,366.90 476.80,366.90 C476.80,366.90 478.68,371.53 481.00,372.80 C484.62,374.79 491.85,373.48 498.60,373.70 C507.72,374.00 530.80,374.20 530.80,374.20" fill="none" stroke="#2a0a14" stroke-width="0.95" stroke-dasharray="1.4 1.4" stroke-linejoin="round" opacity="0.42"/>
<text x="338.2" y="257.8" class="ti" textLength="145.3" lengthAdjust="spacingAndGlyphs">Position “1–3” x-axis response (Case2)</text>
<line x1="420" x2="432" y1="278" y2="278" stroke="#111111" stroke-width="1.4" stroke-dasharray="1.3 1.1"/>
<text x="432.5" y="280.2" class="lg" textLength="7.5" lengthAdjust="spacingAndGlyphs">1-x</text>
<line x1="456.7" x2="467.4" y1="278" y2="278" stroke="#9a9aff" stroke-width="0.9"/>
<text x="468" y="280.2" class="lg" textLength="10.0" lengthAdjust="spacingAndGlyphs">2-x</text>
<line x1="493.4" x2="504" y1="278" y2="278" stroke="#ff7a7a" stroke-width="0.9"/>
<text x="504.5" y="280.2" class="lg" textLength="9.0" lengthAdjust="spacingAndGlyphs">3-x</text>
<text x="387" y="440" class="ax" textLength="81.6" lengthAdjust="spacingAndGlyphs">Normalized frequency [Hz]</text>
<text transform="translate(294.0,389.7) rotate(-90)" x="0" y="0" class="ax" style="font-size:6.3px" textLength="93.1" lengthAdjust="spacingAndGlyphs">Normalized phase angle [deg.]</text>
<text x="267.7" y="222.7" class="lab" textLength="14.4" lengthAdjust="spacingAndGlyphs">(<tspan font-weight="bold">a</tspan>)</text>
<text x="267.2" y="459.6" class="lab" textLength="15.6" lengthAdjust="spacingAndGlyphs">(<tspan font-weight="bold">b</tspan>)</text>
</svg>
</body></html>
